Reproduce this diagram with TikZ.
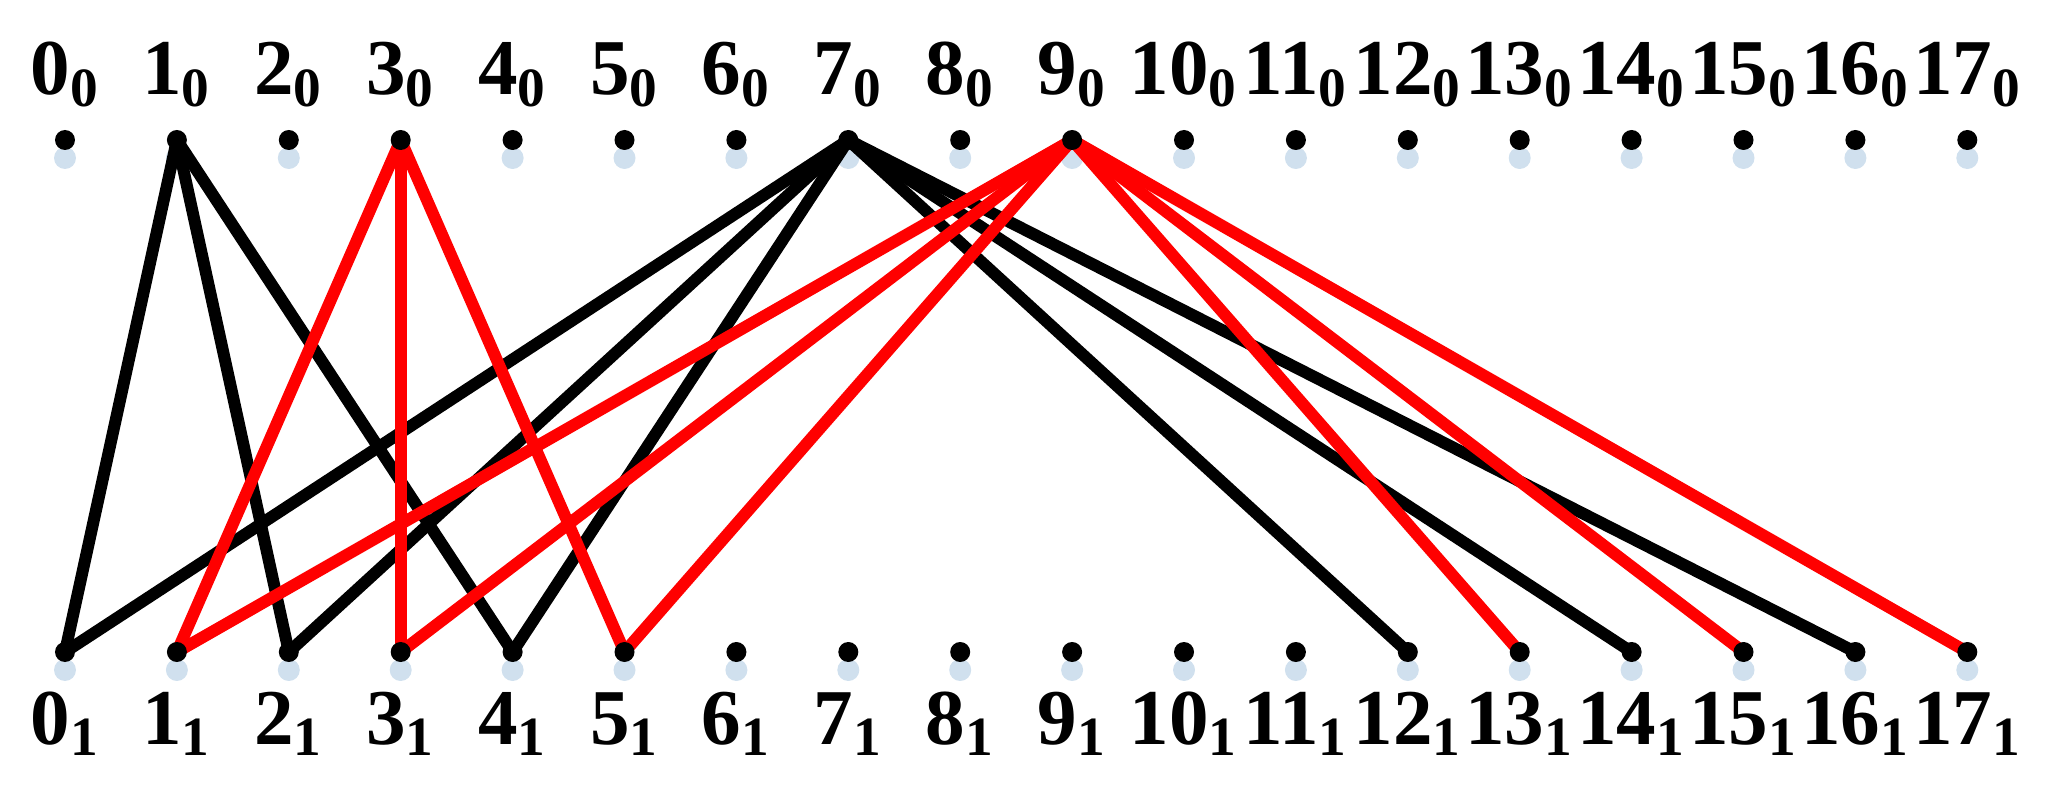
\documentclass[tikz,border=0pt]{standalone}
\usepackage{fontspec}
\setmainfont{Liberation Serif}
\definecolor{shadowblue}{RGB}{208,224,238}

\begin{document}
\begin{tikzpicture}[
   lbl/.style={font=\fontsize{22.5}{26}\selectfont\bfseries,anchor=base,inner sep=0pt},
   blk/.style={line width=3.4pt,black},
   rd/.style={line width=3.4pt,red}]
   \useasboundingbox (0,0) rectangle (20.57,7.99);
   % vertices of the two rows, with labels and shadows
   \foreach \i in {0,...,17} {
     \coordinate (t\i) at (0.65+1.119*\i,6.59);
     \coordinate (b\i) at (0.65+1.119*\i,1.47);
     \fill[shadowblue] ([yshift=-1.8mm]t\i) circle (1.1mm);
     \fill[shadowblue] ([yshift=-1.8mm]b\i) circle (1.1mm);
     \node[lbl] (lt\i) at (0.65+1.119*\i,7.04) {\i\textsubscript{0}};
     \node[lbl] (lb\i) at (0.65+1.119*\i,0.55) {\i\textsubscript{1}};
   }
   % edges
   \foreach \a/\b in {1/0,1/2,1/4,7/0,7/2,7/4,7/12,7/14,7/16}
     \draw[blk] (t\a) -- (b\b);
   \foreach \a/\b in {3/1,3/3,3/5,9/1,9/3,9/5,9/13,9/15,9/17}
     \draw[rd] (t\a) -- (b\b);
   % dots on top
   \foreach \i in {0,...,17} {
     \fill (t\i) circle (1mm);
     \fill (b\i) circle (1mm);
   }
\end{tikzpicture}
\end{document}
